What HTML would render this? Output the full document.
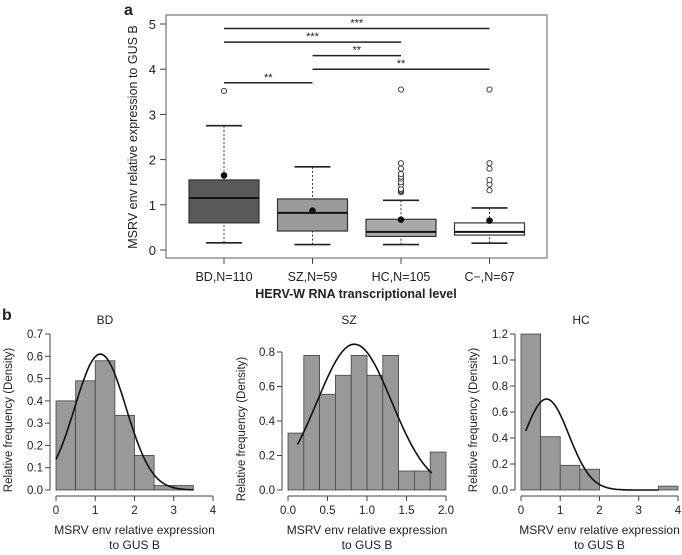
<!DOCTYPE html>
<html><head><meta charset="utf-8"><style>
body{margin:0;background:#fff;}
svg text{font-family:"Liberation Sans",sans-serif;fill:#222;}
</style></head><body>
<svg id="s" width="682" height="550" viewBox="0 0 682 550" xmlns="http://www.w3.org/2000/svg"></svg>
<script>
// ---- Panel a data ----
const groups=["BD,N=110","SZ,N=59","HC,N=105","C\u2212,N=67"];
const whiskLo=[0.16,0.12,0.12,0.15];
const q1=[0.6,0.42,0.3,0.33];
const med=[1.15,0.82,0.4,0.4];
const q3=[1.55,1.13,0.68,0.6];
const whiskHi=[2.75,1.84,1.1,0.93];
const means=[1.65,0.87,0.67,0.65];
const outliers=[[3.52],[],[1.28,1.3,1.32,1.35,1.45,1.5,1.58,1.62,1.68,1.8,1.92,3.55],[1.32,1.45,1.55,1.8,1.92,3.55]];
const boxFills=["#5a5a5a","#9a9a9a","#aaaaaa","#ffffff"];
const yTicksA=[0,1,2,3,4,5];
const brFrom=[0,0,1,1,0], brTo=[3,2,2,3,1], brY=[4.9,4.6,4.3,4.0,3.7], brLab=["***","***","**","**","**"];
// ---- Panel b data ----
const bdBars=[0.4,0.49,0.58,0.335,0.155,0.02,0.02];
const szBars=[0.33,0.78,0.555,0.665,0.78,0.665,0.78,0.11,0.11,0.22];
const hcBars=[1.2,0.41,0.19,0.16,0,0,0,0.03];
const bdTicksX=[0,1,2,3,4], bdTicksY=[0,0.1,0.2,0.3,0.4,0.5,0.6,0.7];
const szTicksX=[0,0.5,1.0,1.5,2.0], szTicksY=[0,0.2,0.4,0.6,0.8];
const hcTicksX=[0,1,2,3,4], hcTicksY=[0,0.2,0.4,0.6,0.8,1.0,1.2];
const bdNorm=[1.13,0.654,0,3.5], szNorm=[0.84,0.472,0.12,1.82], hcNorm=[0.65,0.57,0.12,3.5];

const S=document.getElementById('s');
const NS="http://www.w3.org/2000/svg";
function mk(t,a,txt){const e=document.createElementNS(NS,t);for(const k in a)e.setAttribute(k,a[k]);if(txt!==undefined)e.textContent=txt;S.appendChild(e);return e;}

// Panel a
const ya=v=>250-45.2*v;
const xa=i=>224+88.5*i;
let e=mk('rect',{x:166,y:15,width:381,height:243,fill:'none',stroke:'#777','stroke-width':1.2});

e=mk('text',{x:124,y:15,'font-size':16,'font-weight':'bold'},'a');

yTicksA.forEach(v=>{
  e=mk('line',{x1:160,x2:166,y1:ya(v),y2:ya(v),stroke:'#444'});
  
  e=mk('text',{x:156,y:ya(v)+5,'font-size':13,'text-anchor':'end'},String(v));
  
});
e=mk('text',{x:0,y:0,'font-size':12.5,'text-anchor':'middle',transform:'translate(137,137) rotate(-90)'},'MSRV env relative expression to GUS B');

groups.forEach((g,i)=>{
  const x=xa(i);
  e=mk('line',{x1:x,x2:x,y1:258,y2:264,stroke:'#444'});
  
  e=mk('text',{x:x,y:281,'font-size':12.5,'text-anchor':'middle'},g);
  
  e=mk('line',{x1:x,x2:x,y1:ya(whiskLo[i]),y2:ya(q1[i]),stroke:'#333','stroke-dasharray':'2,2'});
  
  e=mk('line',{x1:x,x2:x,y1:ya(whiskHi[i]),y2:ya(q3[i]),stroke:'#333','stroke-dasharray':'2,2'});
  
  [whiskLo[i],whiskHi[i]].forEach(v=>{
    e=mk('line',{x1:x-18,x2:x+18,y1:ya(v),y2:ya(v),stroke:'#222','stroke-width':1.6});
    
  });
  e=mk('rect',{x:x-35,y:ya(q3[i]),width:70,height:ya(q1[i])-ya(q3[i]),fill:boxFills[i],stroke:'#333','stroke-width':1.2});
  
  e=mk('line',{x1:x-35,x2:x+35,y1:ya(med[i]),y2:ya(med[i]),stroke:'#111','stroke-width':2});
  
  outliers[i].forEach(v=>{
    e=mk('circle',{cx:x,cy:ya(v),r:2.6,fill:'#fff',stroke:'#333','stroke-width':0.9});
    
  });
  e=mk('circle',{cx:x,cy:ya(means[i]),r:3.3,fill:'#111'});
  
});
brY.forEach((v,k)=>{
  const x1=xa(brFrom[k]),x2=xa(brTo[k]);
  e=mk('line',{x1:x1,x2:x2,y1:ya(v),y2:ya(v),stroke:'#222','stroke-width':1.5});
  
  e=mk('text',{x:(x1+x2)/2,y:ya(v)-2,'font-size':11,'text-anchor':'middle'},brLab[k]);
  
});
e=mk('text',{x:356,y:298,'font-size':12.5,'font-weight':'bold','text-anchor':'middle'},'HERV-W RNA transcriptional level');


// Panel b
e=mk('text',{x:2,y:320,'font-size':16,'font-weight':'bold'},'b');

function hist(name,bars,bw,ticksX,ticksY,xmax,ymax,x0,x1,y0,y1,norm,ylx,titleX){
  const sx=v=>x0+(x1-x0)*v/xmax, sy=v=>y0-(y0-y1)*v/ymax;
  e=mk('text',{x:titleX,y:324,'font-size':12,'text-anchor':'middle'},name);
  
  bars.forEach((h,i)=>{
    if(h<=0)return;
    e=mk('rect',{x:sx(i*bw),y:sy(h),width:sx(bw)-sx(0),height:y0-sy(h),fill:'#999',stroke:'#444','stroke-width':0.8});
    
  });
  e=mk('line',{x1:sx(0),x2:sx(xmax),y1:y0+6,y2:y0+6,stroke:'#444'});
  
  ticksX.forEach(t=>{
    e=mk('line',{x1:sx(t),x2:sx(t),y1:y0+6,y2:y0+11,stroke:'#444'});
    
    e=mk('text',{x:sx(t),y:y0+24,'font-size':11.5,'text-anchor':'middle'},name==='SZ'?t.toFixed(1):String(t));
    
  });
  const ax=x0-6;
  e=mk('line',{x1:ax,x2:ax,y1:sy(0),y2:sy(ticksY[ticksY.length-1]),stroke:'#444'});
  
  ticksY.forEach(t=>{
    e=mk('line',{x1:ax-5,x2:ax,y1:sy(t),y2:sy(t),stroke:'#444'});
    
    e=mk('text',{x:ax-7,y:sy(t)+4,'font-size':11.5,'text-anchor':'end'},t.toFixed(1));
    
  });
  let d='';
  const [m,sd,a,b]=norm;
  for(let k=0;k<=80;k++){const v=a+(b-a)*k/80;const dn=Math.exp(-0.5*((v-m)/sd)**2)/(sd*Math.sqrt(2*Math.PI));d+=(k?'L':'M')+sx(v).toFixed(1)+','+sy(dn).toFixed(1);}
  e=mk('path',{d:d,fill:'none',stroke:'#111','stroke-width':1.6});
  
  e=mk('text',{x:0,y:0,'font-size':11.5,'text-anchor':'middle',transform:`translate(${ylx},${(y0+y1)/2+8}) rotate(-90)`},'Relative frequency (Density)');
  
  const cx=(sx(0)+sx(xmax))/2;
  e=mk('text',{x:cx,y:534,'font-size':12,'text-anchor':'middle'},'MSRV env relative expression');
  
  e=mk('text',{x:cx,y:549,'font-size':12,'text-anchor':'middle'},'to GUS B');
  
}
hist('BD',bdBars,0.5,bdTicksX,bdTicksY,4,0.7,56,213,490,334,bdNorm,12,105);
hist('SZ',szBars,0.2,szTicksX,szTicksY,2,0.8,288,446,490,352,szNorm,245,349);
hist('HC',hcBars,0.5,hcTicksX,hcTicksY,4,1.2,521,678,490,334,hcNorm,477,581);
</script>
</body></html>
